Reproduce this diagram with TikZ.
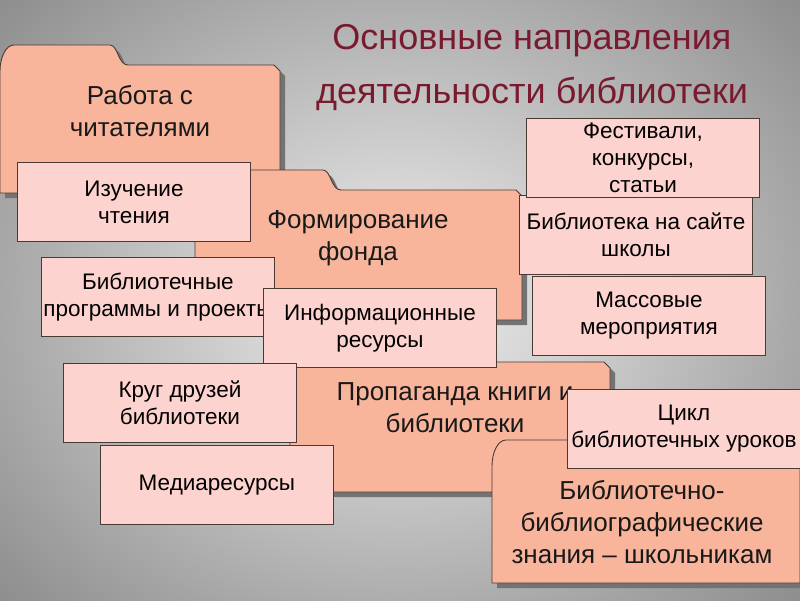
\documentclass[tikz,border=0pt]{standalone}
\usepackage{fontspec}
\setmainfont{Liberation Sans}
\definecolor{folderc}{HTML}{F8B59C}
\definecolor{boxc}{HTML}{FDD3CF}
\definecolor{titlec}{HTML}{7A1A2E}
\definecolor{edgec}{HTML}{4A3A34}
\tikzset{
  pbox/.style={draw=edgec,line width=0.9pt,fill=boxc,minimum width=233pt,minimum height=79pt,align=center,font=\fontsize{22.5}{27}\selectfont,anchor=north west,inner sep=1pt},
  ftext/.style={align=center,font=\fontsize{26}{32}\selectfont,text=black!90}
}
\newcommand\myfolder[5]{% x0 y0(body top) x1 y1 tabw
  \fill[black!55,shift={(5pt,-5pt)}] (#1,#4) -- (#1,#2+6) .. controls (#1,#2-8) and (#1+6,#2-20) .. (#1+14,#2-20) -- (#1+#5,#2-20) .. controls (#1+#5+8,#2-20) and (#1+#5+8,#2) .. (#1+#5+18,#2) -- (#3-6,#2) -- (#3,#2+6) -- (#3,#4) -- cycle;
  \draw[edgec,line width=0.9pt,fill=folderc] (#1,#4) -- (#1,#2+6) .. controls (#1,#2-8) and (#1+6,#2-20) .. (#1+14,#2-20) -- (#1+#5,#2-20) .. controls (#1+#5+8,#2-20) and (#1+#5+8,#2) .. (#1+#5+18,#2) -- (#3-6,#2) -- (#3,#2+6) -- (#3,#4) -- cycle;
}
\begin{document}
\begin{tikzpicture}[x=1pt,y=-1pt]
\useasboundingbox (0,0) rectangle (800,600);
\shade[inner color=black!6,outer color=black!45] (-150,-150) rectangle (950,750);
\clip (0,0) rectangle (800,600);
\node[text=titlec,font=\fontsize{36}{54}\selectfont,align=center] (title) at (532,68) {Основные направления\\деятельности библиотеки};
\myfolder{0}{65}{280}{193}{110}
\node[ftext] (f1) at (140,111) {Работа с\\читателями};
\myfolder{195}{190}{522}{320}{128}
\node[ftext] (f2) at (358,238) {Формирование\\фонда};
\myfolder{290}{362}{610}{492}{100}
\node[ftext] (f3) at (455,408) {Пропаганда книги и\\библиотеки};
\myfolder{492}{460}{800}{583}{85}
\node[ftext] (f4) at (642,522) {Библиотечно-\\библиографические\\знания – школьникам};
\node[pbox] (b1) at (17,162) {Изучение\\чтения};
\node[pbox] (b2) at (41,257) {Библиотечные\\программы и проекты};
\node[pbox] (b3) at (263,288) {Информационные\\ресурсы};
\node[pbox] (b4) at (63,363) {Круг друзей\\библиотеки};
\node[pbox] (b5) at (100,445) {Медиаресурсы};
\node[pbox] (b7) at (519,195) {Библиотека на сайте\\школы};
\node[pbox] (b6) at (526,118) {Фестивали,\\конкурсы,\\статьи};
\node[pbox] (b8) at (532,276) {Массовые\\мероприятия};
\node[pbox] (b9) at (567,389) {Цикл\\библиотечных уроков};
\end{tikzpicture}
\end{document}
